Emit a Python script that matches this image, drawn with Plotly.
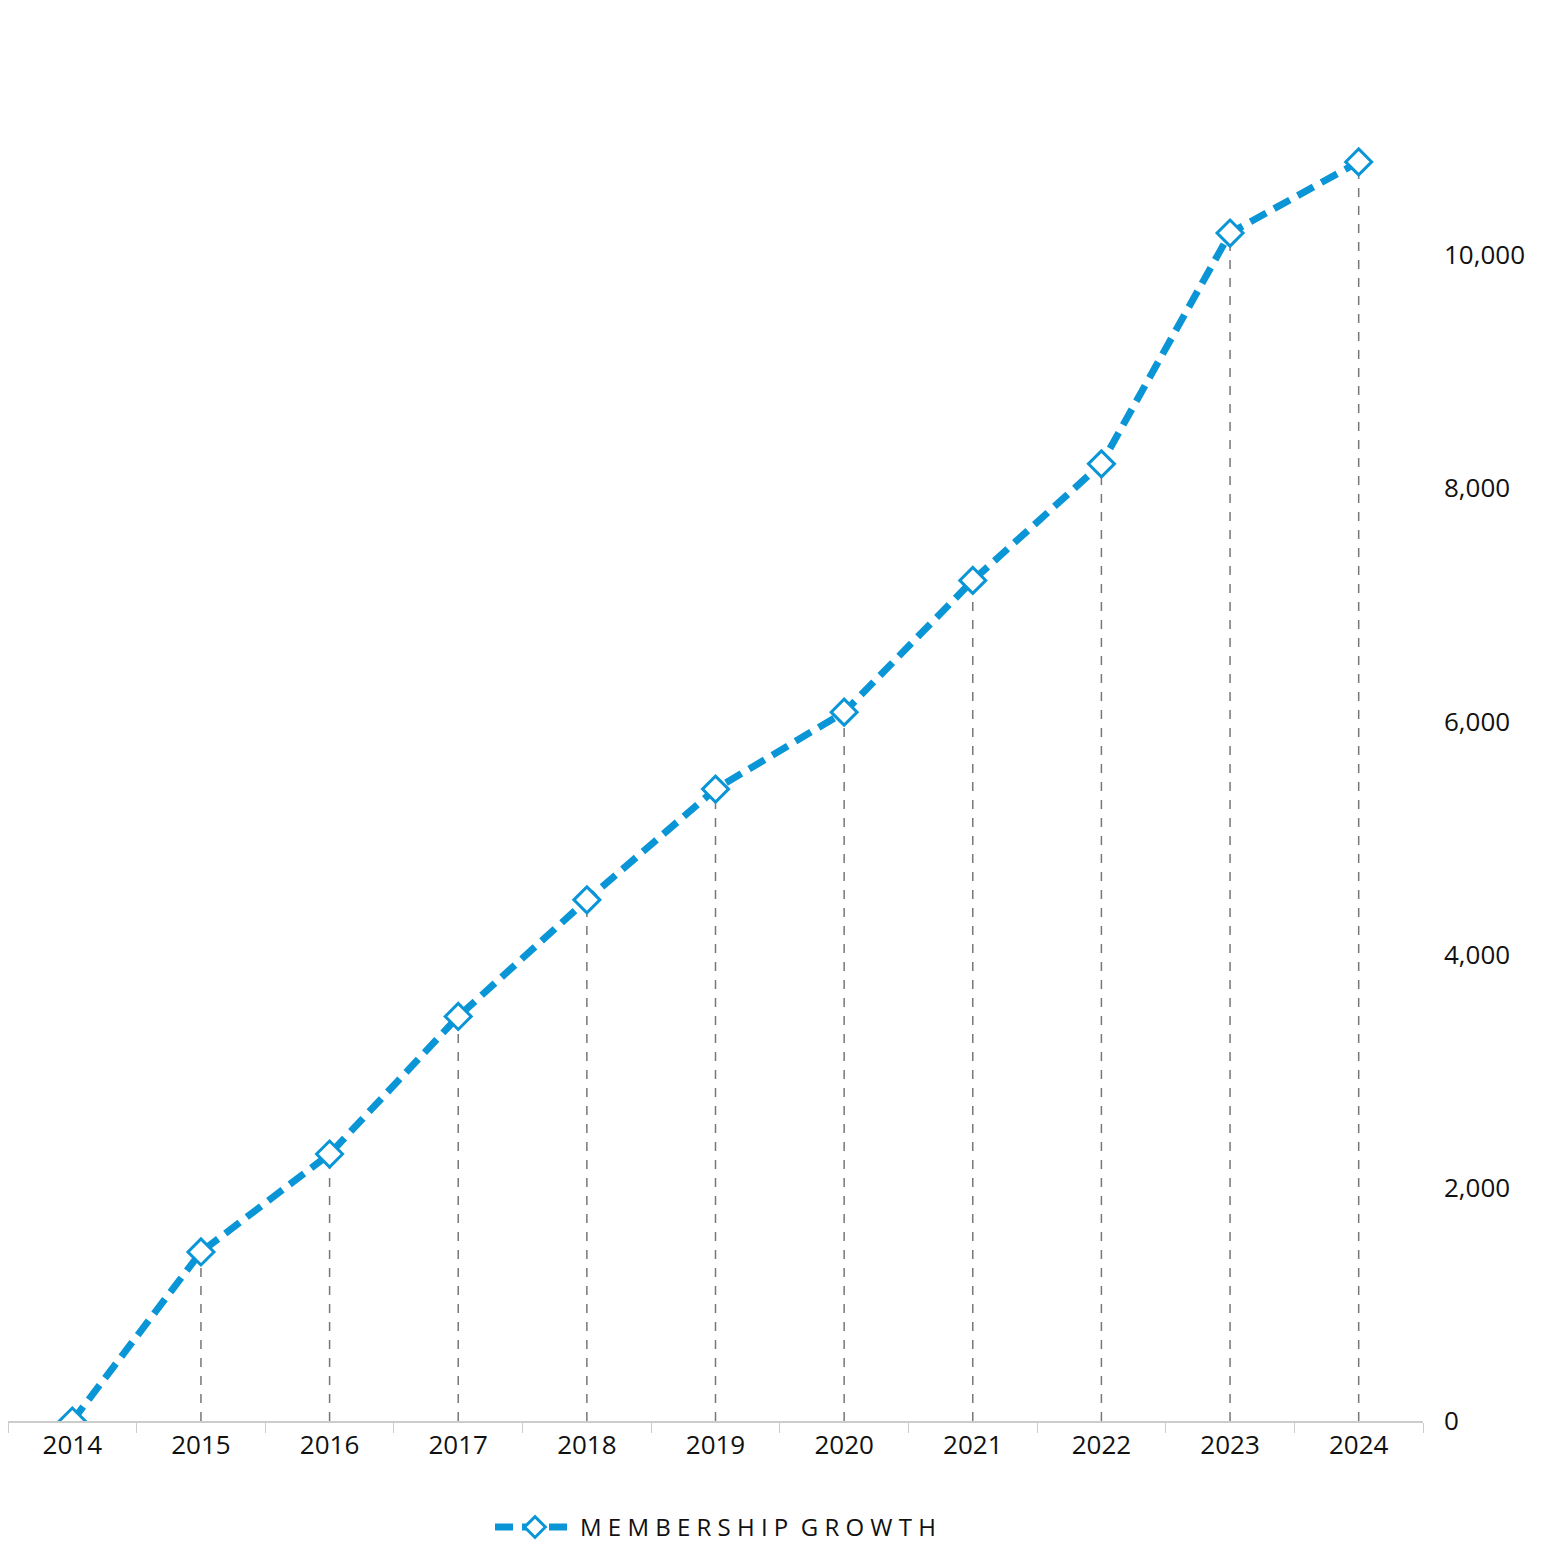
import plotly.graph_objects as go

years = ["2014","2015","2016","2017","2018","2019","2020","2021","2022","2023","2024"]
members = [0, 1450, 2290, 3470, 4470, 5420, 6080, 7210, 8210, 10190, 10800]

BLUE = "#0a96d6"

dx, dy = [], []
for y, v in zip(years, members):
    dx += [y, y, None]
    dy += [0, v, None]

fig = go.Figure()
fig.add_trace(go.Scatter(x=dx, y=dy, mode="lines", showlegend=False, hoverinfo="skip",
                         line=dict(color="#777777", width=1.5, dash="dash")))
fig.add_trace(go.Scatter(x=years, y=members, mode="lines+markers", name="M E M B E R S H I P  G R O W T H",
                         line=dict(color=BLUE, width=7, dash="18px,9px"),
                         marker=dict(symbol="diamond", size=20, color="white",
                                     line=dict(color=BLUE, width=3))))
fig.update_layout(
    width=1542, height=1542, paper_bgcolor="white", plot_bgcolor="white",
    margin=dict(l=0, r=127, t=14, b=119),
    font=dict(family="Open Sans", size=26, color="#111111"),
    xaxis=dict(type="category", range=[-0.5, 10.5], showgrid=False, showline=True,
               linecolor="#cccccc", linewidth=2,
               ticks="outside", tickson="boundaries", ticklen=10, tickcolor="#cccccc",
               tickfont=dict(size=26, weight=500)),
    yaxis=dict(side="right", range=[0, 12000], dtick=2000, tickformat=",", showgrid=False,
               zeroline=False, showline=False, ticklabelstandoff=20,
               tickfont=dict(size=26, weight=500)),
    legend=dict(orientation="h", x=0.5, xanchor="center", y=-0.06, yanchor="top",
                itemwidth=80, font=dict(size=24, weight=500)),
)
fig.write_html("out.html")
